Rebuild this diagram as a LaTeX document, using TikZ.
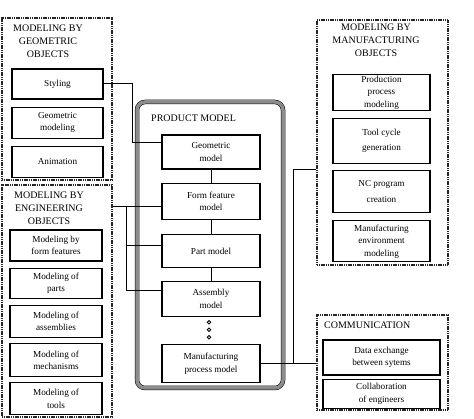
\documentclass[tikz,border=0pt]{standalone}
\usepackage{fontspec}
\setmainfont{Liberation Serif}
\usetikzlibrary{positioning}
\tikzset{
  groupbox/.style={draw=black!85,line width=2pt,dash pattern=on 1.2pt off 0.6pt,inner sep=0pt},
  prodbox/.style={draw=black,line width=0.5pt,double=black!45,double distance=3.5pt,rounded corners=8pt,inner sep=0pt},
  inbox/.style={draw,line width=1.2pt,align=center,inner sep=1pt,font=\fontsize{9.2}{12.5}\selectfont},
  grouptitle/.style={align=center,inner sep=0pt,font=\fontsize{10}{13}\selectfont},
  dotmark/.style={circle,draw,line width=0.8pt,inner sep=0pt,minimum size=3.5pt},
  link/.style={line width=1pt},
}
\begin{document}
\begin{tikzpicture}[x=1pt,y=-1pt]
\useasboundingbox (0,0) rectangle (474,419);
     %groups:
\node (geoobj) at (57,99) [groupbox,minimum width=110pt,minimum height=162pt] {};
\node (geotitle) at (48,41) [grouptitle] {MODELING BY\\GEOMETRIC\\OBJECTS};
\node (styling) at (57.5,84) [inbox,minimum width=91pt,minimum height=30pt] {Styling};
\node (geomodeling) [inbox,below=7pt of styling,minimum width=91pt,minimum height=31pt] {Geometric\\modeling};
\node (animation) [inbox,below=7pt of geomodeling,minimum width=91pt,minimum height=31pt] {Animation};

\node (engobj) at (57,301) [groupbox,minimum width=110pt,minimum height=232pt] {};
\node (engtitle) at (49,208) [grouptitle] {MODELING BY\\ENGINEERING\\OBJECTS};
\node (formfeat) at (56,245.5) [inbox,minimum width=92pt,minimum height=31pt] {Modeling by\\form features};
\node (parts) [inbox,below=6pt of formfeat,minimum width=92pt,minimum height=30pt] {Modeling of\\parts};
\node (assemblies) [inbox,below=6pt of parts,minimum width=92pt,minimum height=32pt] {Modeling of\\assemblies};
\node (mechanisms) [inbox,below=5pt of assemblies,minimum width=92pt,minimum height=33pt] {Modeling of\\mechanisms};
\node (tools) [inbox,below=5pt of mechanisms,minimum width=92pt,minimum height=32pt] {Modeling of\\tools};

     %product model:
\node (product) at (210,245) [prodbox,minimum width=146pt,minimum height=286pt] {};
\node (prodtitle) at (151,118) [grouptitle,anchor=west] {PRODUCT MODEL};
\node (geomodel) at (211,152) [inbox,minimum width=98pt,minimum height=34pt] {Geometric\\model};
\node (formmodel) [inbox,below=13pt of geomodel,minimum width=98pt,minimum height=36pt] {Form feature\\model};
\node (partmodel) [inbox,below=14pt of formmodel,minimum width=98pt,minimum height=33pt] {Part model};
\node (asmmodel) [inbox,below=13pt of partmodel,minimum width=98pt,minimum height=35pt] {Assembly\\model};
\node (mfgproc) [inbox,below=27pt of asmmodel,minimum width=98pt,minimum height=38pt] {Manufacturing\\process model};
\foreach \d [count=\i] in {5,12.5,20}
  \node (dot\i) at ([xshift=-2pt,yshift=-\d pt]asmmodel.south) [dotmark] {};

     %manufacturing and communication:
\node (mfgobj) at (382.5,142.5) [groupbox,minimum width=131pt,minimum height=245pt] {};
\node (mfgtitle) at (376,40) [grouptitle] {MODELING BY\\MANUFACTURING\\OBJECTS};
\node (production) at (381.5,92.5) [inbox,minimum width=97pt,minimum height=35pt] {Production\\process\\modeling};
\node (toolcycle) [inbox,below=7pt of production,minimum width=97pt,minimum height=45pt] {Tool cycle\\[3pt]generation};
\node (ncprog) [inbox,below=6pt of toolcycle,minimum width=97pt,minimum height=42pt] {NC program\\[3pt]creation};
\node (mfgenv) [inbox,below=7pt of ncprog,minimum width=97pt,minimum height=41pt] {Manufacturing\\environment\\modeling};

\node (commobj) at (382.5,362.5) [groupbox,minimum width=131pt,minimum height=95pt] {};
\node (commtitle) at (324,325) [grouptitle,anchor=west] {COMMUNICATION};
\node (dataex) at (381.5,357.5) [inbox,minimum width=117pt,minimum height=35pt] {Data exchange\\between sytems};
\node (collab) [inbox,below=3pt of dataex,minimum width=117pt,minimum height=29pt] {Collaboration\\of engineers};

     %connectors:
\coordinate (geoin) at ([yshift=9pt]geomodel.west);
\draw [link] (styling.east) -| ([xshift=-29pt]geoin) -- (geoin);
\coordinate (formin) at ([yshift=-5pt]formmodel.west);
\coordinate (bus) at ([xshift=-35pt]formin);
\coordinate (partin) at ([yshift=5pt]partmodel.west);
\coordinate (asmin) at ([yshift=9pt]asmmodel.west);
\draw [link] (engobj.east |- formin) -- (formin);
\draw [link] (bus) |- (asmin);
\draw [link] (bus |- partin) -- (partin);
\draw [link] (geomodel) -- (formmodel);
\draw [link] (formmodel) -- (partmodel);
\draw [link] (partmodel) -- (asmmodel);
\coordinate (split) at ([xshift=33pt]mfgproc.east);
\coordinate (mfgin) at ([yshift=-27.5pt]mfgobj.west);
\draw [link] (mfgproc.east) -- (mfgproc.east -| commobj.west);
\draw [link] (split) |- (mfgin);
   \end{tikzpicture}
\end{document}
